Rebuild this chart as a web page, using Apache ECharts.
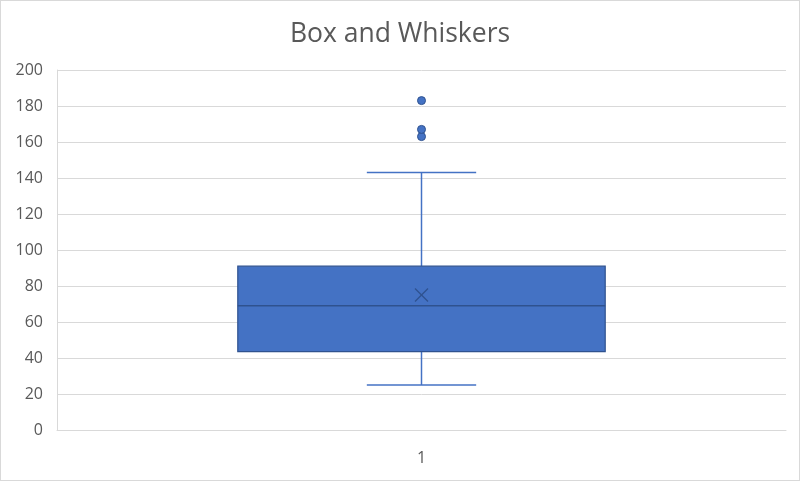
<!DOCTYPE html>
<html>
<head>
<meta charset="utf-8">
<script src="https://cdn.jsdelivr.net/npm/echarts@6/dist/echarts.min.js"></script>
<style>
html,body{margin:0;padding:0;background:#fff;}
#frame{position:absolute;left:0;top:0;width:798px;height:479px;border:1px solid #D9D9D9;}
#c{position:absolute;left:0;top:0;width:800px;height:481px;}
</style>
</head>
<body>
<div id="frame"></div>
<div id="c"></div>
<script>
var categories = ['1'];
var minValues = [25];
var q1Values = [43.5];
var medianValues = [69];
var q3Values = [91];
var maxValues = [143];
var meanValues = [75];
var outlierCategory = ['1', '1', '1'];
var outlierValues = [163, 167, 183];
var yTicks = [0, 20, 40, 60, 80, 100, 120, 140, 160, 180, 200];

var boxData = categories.map(function (c, i) {
  return [i, minValues[i], q1Values[i], medianValues[i], q3Values[i], maxValues[i], meanValues[i]];
});
var outlierData = outlierValues.map(function (v, i) {
  return [categories.indexOf(outlierCategory[i]), v];
});

var chart = echarts.init(document.getElementById('c'));
chart.setOption({
  animation: false,
  title: {
    text: 'Box and Whiskers',
    left: 'center',
    top: 16,
    textStyle: { fontFamily: 'Open Sans', fontSize: 26.5, fontWeight: 'normal', color: '#595959' }
  },
  grid: { left: 57, right: 14, top: 70, bottom: 51 },
  xAxis: {
    type: 'category',
    data: categories,
    axisLine: { show: true, lineStyle: { color: '#D9D9D9' } },
    axisTick: { show: false },
    axisLabel: { fontFamily: 'Open Sans', fontSize: 16, color: '#595959', margin: 20 }
  },
  yAxis: {
    type: 'value',
    min: yTicks[0],
    max: yTicks[yTicks.length - 1],
    interval: yTicks[1] - yTicks[0],
    axisLine: { show: true, lineStyle: { color: '#D9D9D9' } },
    axisTick: { show: false },
    splitLine: { lineStyle: { color: '#D9D9D9', width: 1 } },
    axisLabel: { fontFamily: 'Open Sans', fontSize: 16, color: '#595959', margin: 14 }
  },
  series: [
    {
      type: 'custom',
      data: boxData,
      encode: { x: 0, y: [1, 2, 3, 4, 5, 6] },
      renderItem: function (params, api) {
        var xi = api.value(0);
        var band = api.size([1, 0])[0];
        var bw = band * 0.504;
        var cw = band * 0.15;
        var pMin = api.coord([xi, api.value(1)]);
        var pQ1 = api.coord([xi, api.value(2)]);
        var pMed = api.coord([xi, api.value(3)]);
        var pQ3 = api.coord([xi, api.value(4)]);
        var pMax = api.coord([xi, api.value(5)]);
        var pMean = api.coord([xi, api.value(6)]);
        var cx = pMed[0];
        var whiskerStyle = { stroke: '#4472C4', lineWidth: 1.5 };
        var dark = '#2F528F';
        var s = 6.5;
        return {
          type: 'group',
          children: [
            { type: 'line', shape: { x1: cx, y1: pQ3[1], x2: cx, y2: pMax[1] }, style: whiskerStyle },
            { type: 'line', shape: { x1: cx - cw / 2, y1: pMax[1], x2: cx + cw / 2, y2: pMax[1] }, style: whiskerStyle },
            { type: 'line', shape: { x1: cx, y1: pQ1[1], x2: cx, y2: pMin[1] }, style: whiskerStyle },
            { type: 'line', shape: { x1: cx - cw / 2, y1: pMin[1], x2: cx + cw / 2, y2: pMin[1] }, style: whiskerStyle },
            { type: 'rect', shape: { x: cx - bw / 2, y: pQ3[1], width: bw, height: pQ1[1] - pQ3[1] },
              style: { fill: '#4472C4', stroke: dark, lineWidth: 1.2 } },
            { type: 'line', shape: { x1: cx - bw / 2, y1: pMed[1], x2: cx + bw / 2, y2: pMed[1] },
              style: { stroke: dark, lineWidth: 1.5 } },
            { type: 'line', shape: { x1: cx - s, y1: pMean[1] - s, x2: cx + s, y2: pMean[1] + s },
              style: { stroke: dark, lineWidth: 1.2 } },
            { type: 'line', shape: { x1: cx - s, y1: pMean[1] + s, x2: cx + s, y2: pMean[1] - s },
              style: { stroke: dark, lineWidth: 1.2 } }
          ]
        };
      },
      z: 3
    },
    {
      type: 'scatter',
      data: outlierData,
      symbol: 'circle',
      symbolSize: 8,
      itemStyle: { color: '#4472C4', borderColor: '#2F528F', borderWidth: 1, opacity: 1 },
      z: 4
    }
  ]
});
</script>
</body>
</html>
